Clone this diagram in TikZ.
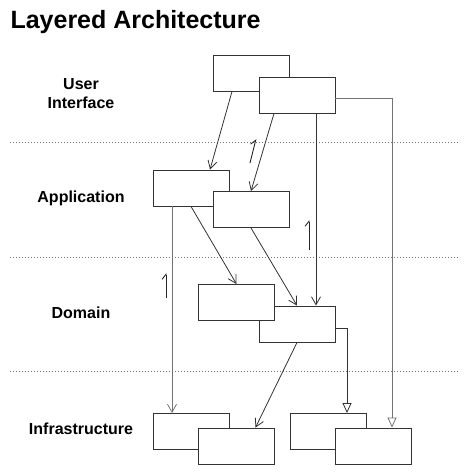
\documentclass[tikz,border=0pt]{standalone}
\usepackage{fontspec}
\setmainfont{Liberation Sans}
\usetikzlibrary{arrows.meta}

\begin{document}
\begin{tikzpicture}[x=1pt, y=-1pt,
		cls/.style={draw=black!80, line width=0.9pt, fill=white, minimum width=76pt, minimum height=36pt, inner sep=0pt},
		layer/.style={font=\fontsize{16}{19}\selectfont\bfseries, align=center},
		dep/.style={draw=black!80, line width=0.8pt, -{Straight Barb[length=8pt, width=9pt]}},
		impl/.style={draw=black!55, line width=0.8pt, -{Triangle[open, length=10pt, width=9pt]}},
		sep/.style={draw=black!55, line width=1pt, dotted},
		hint/.style={draw=black!85, line width=0.9pt, -{Straight Barb[harpoon, length=5pt, width=8pt]}}]
		\useasboundingbox (0, 0) rectangle (474, 474);
		
		\node[anchor=base west, font=\fontsize{25}{30}\selectfont\bfseries] (title) at (7, 28) {Layered Architecture};
		
		\draw[sep] (10, 142) -- (458, 142);
		\draw[sep] (10, 257) -- (458, 257);
		\draw[sep] (10, 371) -- (458, 371);
		
		\node[layer] (lui) at (81, 94) {User\\Interface};
		\node[layer] (lapp) at (81, 198) {Application};
		\node[layer] (ldom) at (81, 313) {Domain};
		\node[layer] (linf) at (81, 429) {Infrastructure};
		
		\node[cls] (ui1) at (251, 73) {};
		\node[cls] (ui2) at (297, 95) {};
		\node[cls] (app1) at (191, 188) {};
		\node[cls] (app2) at (251, 209.5) {};
		\node[cls] (dom2) at (297, 324) {};
		\node[cls] (dom1) at (236.5, 302.5) {};
		\node[cls] (inf1) at (191, 431.5) {};
		\node[cls] (inf2) at (236.5, 446) {};
		\node[cls] (inf3) at (328, 431.5) {};
		\node[cls] (inf4) at (373, 446) {};
		
		\draw[dep] ([xshift=-19pt]ui1.south) -- ([xshift=19pt]app1.north);
		\draw[dep] ([xshift=-23pt]ui2.south) -- (app2.north);
		\draw[dep] ([xshift=19pt]ui2.south) -- ([xshift=19pt]dom2.north);
		\draw[impl] ([yshift=-3pt]ui2.east) -| ([xshift=19pt]inf4.north);
		\draw[dep, draw=black!55] ([xshift=-19pt]app1.south) -- ([xshift=-19pt]inf1.north);
		\draw[dep] (app1.south) -- (dom1.north);
		\draw[dep] (app2.south) -- (dom2.north);
		\draw[dep] (dom2.south) -- ([xshift=19pt]inf2.north);
		\draw[impl, draw=black!80] ([yshift=-4pt]dom2.east) -| ([xshift=19pt]inf3.north);
		
		\draw[hint] (250, 163) -- (256, 139);
		\draw[hint] (309, 250) -- (309, 220);
		\draw[hint] (166, 298) -- (166, 273);
	\end{tikzpicture}
\end{document}
